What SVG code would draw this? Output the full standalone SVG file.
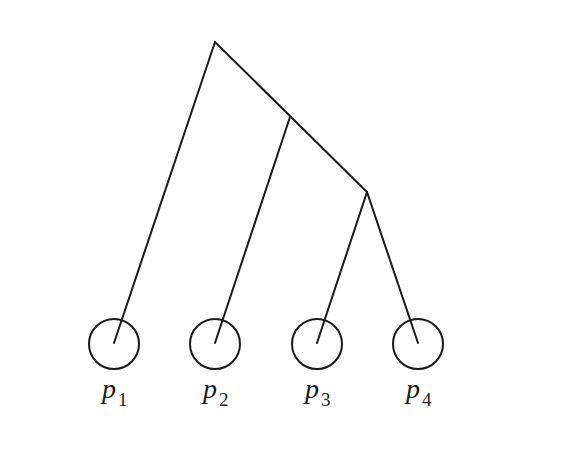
<svg xmlns="http://www.w3.org/2000/svg" width="568" height="453" viewBox="0 0 568 453">
<style>
.e{stroke:#1a1a1a;stroke-width:2;fill:none;stroke-linecap:round;stroke-linejoin:miter}
.n{stroke:#1a1a1a;stroke-width:2;fill:none}
.t{font-family:"Liberation Serif","Times New Roman",serif;font-style:italic;font-size:28px;fill:#1a1a1a}
.s{font-family:"Liberation Serif","Times New Roman",serif;font-style:normal;font-size:19px}
</style>
<rect width="568" height="453" fill="#fff"/>
<g id="connectors">
<polyline class="e" points="114,343 215,42 367,192 418,343"/>
<line class="e" x1="290" y1="117" x2="215" y2="343"/>
<line class="e" x1="367" y1="192" x2="317" y2="343"/>
</g>
<g id="p1"><circle class="n" cx="114" cy="344" r="25"/><text class="t" x="102" y="398">p<tspan class="s" dx="2" dy="8">1</tspan></text></g>
<g id="p2"><circle class="n" cx="215" cy="344" r="25"/><text class="t" x="203" y="398">p<tspan class="s" dx="2" dy="8">2</tspan></text></g>
<g id="p3"><circle class="n" cx="317" cy="344" r="25"/><text class="t" x="305" y="398">p<tspan class="s" dx="2" dy="8">3</tspan></text></g>
<g id="p4"><circle class="n" cx="418" cy="344" r="25"/><text class="t" x="406" y="398">p<tspan class="s" dx="2" dy="8">4</tspan></text></g>
</svg>
